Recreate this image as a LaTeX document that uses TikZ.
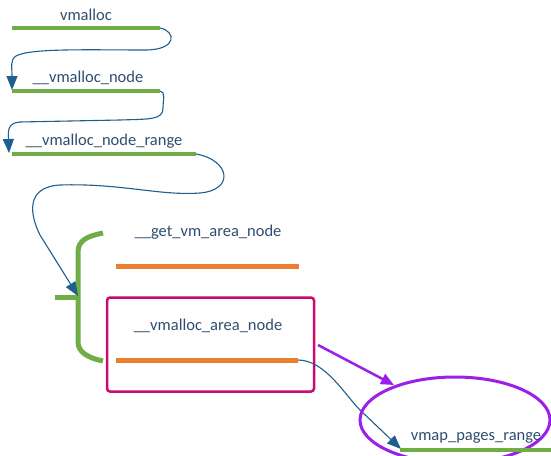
\documentclass[tikz,border=0pt]{standalone}
\usepackage{fontspec}
\setmainfont{Carlito}
\usetikzlibrary{arrows.meta}
\definecolor{gline}{HTML}{70AD47}
\definecolor{oline}{HTML}{ED7D31}
\definecolor{mag}{HTML}{CC0A6E}
\definecolor{purp}{HTML}{9B1FE8}
\definecolor{bcurve}{HTML}{1F5F8F}
\definecolor{txt}{HTML}{2F4D6E}
\begin{document}
\begin{tikzpicture}[x=1pt,y=-1pt,
  lbl/.style={text=txt,font=\fontsize{16.5}{19}\selectfont,inner sep=0pt},
  gbar/.style={draw=gline,line width=4.5pt},
  obar/.style={draw=oline,line width=5pt},
  conn/.style={draw=bcurve,line width=1.1pt,-{Triangle[length=14pt,width=11pt]}},
]
\useasboundingbox (0,0) rectangle (551,455);
\clip (0,0) rectangle (551,455);
\fill[white] (0,0) rectangle (551,455);
% line end coordinates
\coordinate (l1a) at (12,28);  \coordinate (l1b) at (160,28);
\coordinate (l2a) at (12,91);  \coordinate (l2b) at (160,91);
\coordinate (l3a) at (12,154); \coordinate (l3b) at (196,154);
\coordinate (l4a) at (400,450); \coordinate (l4b) at (551,450);
\coordinate (o1a) at (116,266); \coordinate (o1b) at (299,266);
\coordinate (o2a) at (116,360); \coordinate (o2b) at (298,360);
\coordinate (t1) at (12,90);
\coordinate (t2) at (9,153);
\coordinate (t3) at (78,296);
\coordinate (t4) at (401,449);
% labels
\node[lbl] (n1) at (86,15) {vmalloc};
\node[lbl] (n2) at (88,78) {\_\_vmalloc\_node};
\node[lbl] (n3) at (104,141) {\_\_vmalloc\_node\_range};
\node[lbl] (n4) at (208,232) {\_\_get\_vm\_area\_node};
\node[lbl] (n5) at (208,326) {\_\_vmalloc\_area\_node};
% magenta box
\node[draw=mag,line width=2.5pt,rounded corners=3pt,minimum width=207pt,minimum height=94pt,inner sep=0pt] (box) at (210.5,344.5) {};
% bars
\draw[gbar] (l1a) -- (l1b);
\draw[gbar] (l2a) -- (l2b);
\draw[gbar] (l3a) -- (l3b);
\draw[obar] (o1a) -- (o1b);
\draw[obar] (o2a) -- (o2b);
% bracket
\coordinate (bt) at (103,233);
\coordinate (bb) at (103,361);
\coordinate (bm) at (55,297);
\draw[draw=gline,line width=5pt] (bt) .. controls (88,236) and (78,240) .. (78,252) -- (78,342) .. controls (78,352) and (88,358) .. (bb);
\draw[draw=gline,line width=5pt] (bm) -- (78,297);
% connectors
\draw[conn] (l1b) .. controls (176,31) and (178,50) .. (145,50)
   .. controls (90,50) and (30,48) .. (16,56) .. controls (10,60) and (12,66) .. (t1);
\draw[conn] (l2b) .. controls (166,92) and (163,100) .. (163,108)
   .. controls (163,120) and (150,119) .. (120,120) -- (20,122)
   .. controls (8,123) and (8,130) .. (t2);
\draw[conn] (l3b) .. controls (230,160) and (235,190) .. (200,193)
   .. controls (160,196) and (120,183) .. (60,185)
   .. controls (25,187) and (30,215) .. (40,235) -- (t3);
\draw[conn] (o2b) .. controls (325,360) and (345,395) .. (360,410) -- (t4);
% purple
\draw[purp,line width=3pt] (455,420) ellipse [x radius=95pt,y radius=43pt];
\draw[purp,line width=2.5pt,-{Triangle[length=13pt,width=11pt]}] (318,345) -- (394,385);
% last bar and label
\draw[gbar] (l4a) -- (l4b);
\node[lbl] (n6) at (476,438) {vmap\_pages\_range};
\end{tikzpicture}
\end{document}
